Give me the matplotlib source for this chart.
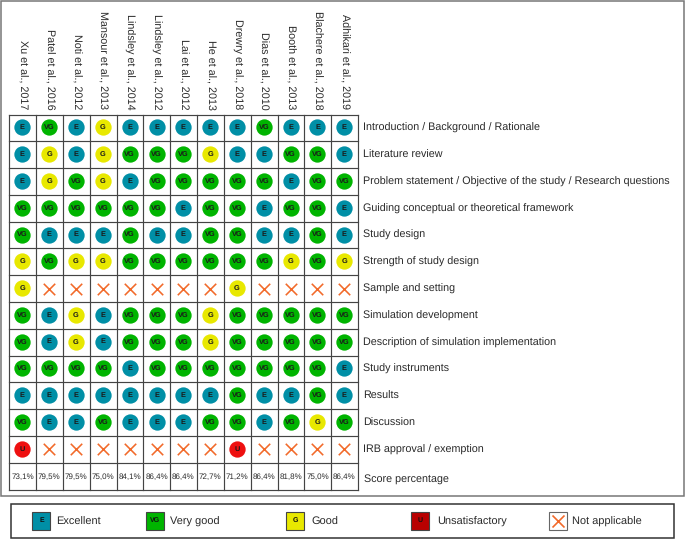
import matplotlib
matplotlib.use("Agg")
import matplotlib.pyplot as plt
from matplotlib.patches import Rectangle

plt.rcParams["font.family"] = ["Liberation Sans", "DejaVu Sans"]
plt.rcParams["text.hinting"] = "no_hinting"
plt.rcParams["text.hinting_factor"] = 8

# --- data ---
studies = ["Xu et al., 2017", "Patel et al., 2016", "Noti et al., 2012", "Mansour et al., 2013",
           "Lindsley et al., 2014", "Lindsley et al., 2012", "Lai et al., 2012", "He et al., 2013",
           "Drewry et al., 2018", "Dias et al., 2010", "Booth et al., 2013", "Blachere et al., 2018",
           "Adhikari et al., 2019"]
criteria = ["Introduction / Background / Rationale", "Literature review",
            "Problem statement / Objective of the study / Research questions",
            "Guiding conceptual or theoretical framework", "Study design", "Strength of study design",
            "Sample and setting", "Simulation development", "Description of simulation implementation",
            "Study instruments", "Results", "Discussion", "IRB approval / exemption"]
ratings = [
    "E VG E G E E E E E VG E E E",
    "E G E G VG VG VG G E E VG VG E",
    "E G VG G E VG VG VG VG VG E VG VG",
    "VG VG VG VG VG VG E VG VG E VG VG E",
    "VG E E E VG E E VG VG E E VG E",
    "G VG G G VG VG VG VG VG VG G VG G",
    "G X X X X X X X G X X X X",
    "VG E G E VG VG VG G VG VG VG VG VG",
    "VG E G E VG VG VG G VG VG VG VG VG",
    "VG VG VG VG E VG VG VG VG VG VG VG E",
    "E E E E E E E E VG E E VG E",
    "VG E E VG E E E VG VG E VG G VG",
    "U X X X X X X X U X X X X",
]
scores = ["73,1%", "79,5%", "79,5%", "75,0%", "84,1%", "86,4%", "86,4%", "72,7%",
          "71,2%", "86,4%", "81,8%", "75,0%", "86,4%"]
score_label = "Score percentage"
legend_keys = ["E", "VG", "G", "U", "X"]
legend_labels = ["Excellent", "Very good", "Good", "Unsatisfactory", "Not applicable"]

colors = {"E": "#008fa6", "VG": "#00b400", "G": "#e8e800", "U": "#ee1010"}
legend_colors = {"E": "#008fa6", "VG": "#00b400", "G": "#e8e800", "U": "#b80000"}
cross = "#f26a2a"
text_c = "#2a2a2a"

# layout in pixels of the 685x541 picture
left, right, top, bottom = 9.3, 358, 114.5, 489.5
nrows = len(criteria) + 1
ncols = len(studies)
cw = (right - left) / ncols
ch = (bottom - top) / nrows

fig = plt.figure(figsize=(6.85, 5.41), dpi=100)
ax = fig.add_axes([0, 0, 1, 1])
ax.set_xlim(0, 685)
ax.set_ylim(541, 0)
ax.axis("off")

# outer frame
ax.add_patch(Rectangle((1.2, 0.8), 682.6, 495.2, fill=False, ec="#777777", lw=1.1))

# grid
for i in range(ncols + 1):
    x = left + i * cw
    ax.plot([x, x], [top, bottom], color="#444444", lw=0.85, zorder=1)
for j in range(nrows + 1):
    y = top + j * ch
    ax.plot([left, right], [y, y], color="#444444", lw=0.85, zorder=1)

# study names
for i, name in enumerate(studies):
    ax.text(left + (i + 0.5) * cw - 0.5, 109.5, name, rotation=-90, ha="center", va="bottom",
            fontsize=7.75, color=text_c)

# marks
for j, row in enumerate(ratings):
    yc = top + (j + 0.5) * ch - 0.5
    for i, r in enumerate(row.split()):
        xc = left + (i + 0.5) * cw - 0.3
        if r == "X":
            ax.scatter(xc, yc + 0.5, marker="x", s=68, color=cross, lw=1.15, zorder=3)
        else:
            ax.scatter(xc, yc, marker="o", s=138, color=colors[r], lw=0, zorder=3)
            ax.text(xc, yc, r, ha="center", va="center", fontsize=5.3, fontweight="bold",
                    color="#1a1a1a", zorder=4)
    ax.text(363, yc + 3.6, criteria[j], ha="left", va="baseline", fontsize=7.75, color=text_c)

# score row
yc = top + (nrows - 0.5) * ch
for i, s in enumerate(scores):
    ax.text(left + (i + 0.5) * cw - 0.2, yc + 3, s, ha="center", va="baseline", fontsize=5.8, color=text_c)
ax.text(364, yc + 5.5, score_label, ha="left", va="baseline", fontsize=7.75, color=text_c)

# legend
ax.add_patch(Rectangle((11.5, 504.3), 662.5, 33.3, fill=False, ec="#333333", lw=1.1))
key_x = [32.5, 146.5, 286.5, 411, 549.5]
label_x = [56.5, 170.5, 311, 437.5, 572]
for k, lab, kx, lx in zip(legend_keys, legend_labels, key_x, label_x):
    if k == "X":
        ax.add_patch(Rectangle((kx, 511.8), 18, 18, fc="white", ec="#666666", lw=0.8))
        ax.scatter(kx + 9, 520.8, marker="x", s=75, color=cross, lw=1.2, zorder=3)
    else:
        ax.add_patch(Rectangle((kx, 511.8), 18, 18, fc=legend_colors[k], ec="#444444", lw=0.8))
        ax.text(kx + 9, 520.5, k, ha="center", va="center", fontsize=5, fontweight="bold", color="#111111")
    ax.text(lx, 525, lab, ha="left", va="baseline", fontsize=7.9, color=text_c)

fig.savefig("out.png", dpi=100)
